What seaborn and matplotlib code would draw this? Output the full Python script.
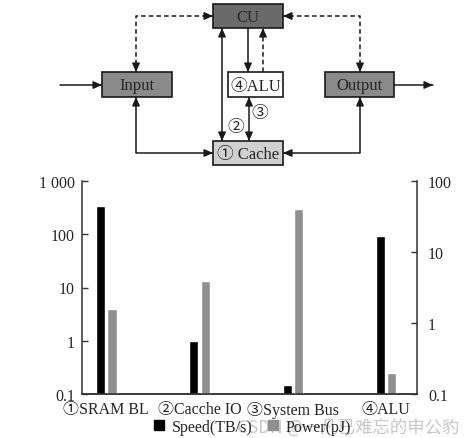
import numpy as np
import pandas as pd
import seaborn as sns
import matplotlib.pyplot as plt
from matplotlib.patches import Rectangle
from matplotlib.lines import Line2D
from matplotlib.ticker import NullLocator

# --- dados ---
categorias = ['①SRAM BL', '②Cacche IO', '③System Bus', '④ALU']
speed = [340, 1.0, 0.15, 91]      # TB/s, eixo esquerdo
power = [1.6, 3.9, 40, 0.2]       # pJ, eixo direito
series = ['Speed(TB/s)', 'Power(pJ)']
cores = {'Speed(TB/s)': '#000000', 'Power(pJ)': '#8f8f8f'}
left_ticks = [0.1, 1, 10, 100, 1000]
left_labels = ['0.1', '1', '10', '100', '1 000']
right_ticks = [0.1, 1, 10, 100]
right_labels = ['0.1', '1', '10', '100']

df = pd.DataFrame({
    'cat': categorias * 2,
    'valor': speed + power,
    'serie': [series[0]] * 4 + [series[1]] * 4,
})

sns.set_style('ticks')
plt.rcParams['font.family'] = ['Liberation Serif', 'Noto Sans CJK SC']
plt.rcParams['font.size'] = 11.5

fig = plt.figure(figsize=(4.74, 4.39), dpi=100)

# --- diagrama (coordenadas em pixels) ---
dax = fig.add_axes([0, 0, 1, 1])
dax.set_xlim(0, 474)
dax.set_ylim(439, 0)
dax.axis('off')

LC = '#1a1a1a'


def caixa(x0, y0, x1, y1, cor, texto):
    dax.add_patch(Rectangle((x0, y0), x1 - x0, y1 - y0, facecolor=cor,
                            edgecolor=LC, lw=1.2, zorder=3))
    dax.text((x0 + x1) / 2, (y0 + y1) / 2 + 1, texto, ha='center', va='center',
             fontsize=12, zorder=4)


def linha(xs, ys, ls='-'):
    dax.plot(xs, ys, color=LC, lw=1.1, ls=ls, zorder=2, dashes=(3, 2) if ls == '--' else (None, None))


def seta(x0, y0, x1, y1):
    # ponta da seta chegando em (x1, y1)
    d = np.hypot(x1 - x0, y1 - y0)
    ux, uy = (x1 - x0) / d, (y1 - y0) / d
    dax.annotate('', xy=(x1, y1), xytext=(x1 - ux * 6, y1 - uy * 6),
                 arrowprops=dict(arrowstyle='-|>,head_length=0.45,head_width=0.2',
                                 color=LC, lw=1.0, shrinkA=0, shrinkB=0), zorder=5)


caixa(213, 5, 283, 29, '#6a6a6a', 'CU')
caixa(102, 73, 172, 98, '#8a8a8a', 'Input')
caixa(228, 73, 283, 98, 'white', '④ALU')
caixa(325, 73, 394, 98, '#8a8a8a', 'Output')
caixa(213, 142, 283, 166, '#d0d0d0', '① Cache')

# entrada / saida
linha([60, 102], [86, 86]); seta(60, 86, 102, 86)
linha([394, 433], [86, 86]); seta(394, 86, 433, 86)
# tracejadas CU <-> Input / Output
linha([136, 136, 213], [73, 17, 17], '--'); seta(136, 17, 136, 73); seta(136, 17, 213, 17)
linha([360, 360, 283], [73, 17, 17], '--'); seta(360, 17, 360, 73); seta(360, 17, 283, 17)
# CU <-> Cache
linha([222, 222], [29, 142]); seta(222, 80, 222, 29); seta(222, 80, 222, 142)
# CU -> ALU, ALU -> CU (tracejada)
linha([248, 248], [29, 73]); seta(248, 29, 248, 73)
linha([263, 263], [73, 29], '--'); seta(263, 73, 263, 29)
# ALU <-> Cache
linha([249, 249], [98, 142]); seta(249, 120, 249, 98); seta(249, 120, 249, 142)
# Input <-> Cache, Output <-> Cache
linha([136, 136, 213], [98, 154, 154]); seta(136, 154, 136, 98); seta(136, 154, 213, 154)
linha([360, 360, 283], [98, 154, 154]); seta(360, 154, 360, 98); seta(360, 154, 283, 154)
dax.text(236, 128, '②', ha='center', va='center', fontsize=12)
dax.text(260, 114, '③', ha='center', va='center', fontsize=12)

# --- grafico de barras ---
ax = fig.add_axes([82 / 474, 1 - 395 / 439, 335 / 474, 213 / 439])
ax.patch.set_alpha(0)
ax2 = ax.twinx()
ax.set_yscale('log', nonpositive='clip')
ax2.set_yscale('log', nonpositive='clip')

sns.barplot(data=df[df['serie'] == series[0]], x='cat', y='valor', hue='serie',
            hue_order=series, palette=cores, width=0.245, gap=0.2, dodge=True,
            legend=False, ax=ax, order=categorias, saturation=1)
sns.barplot(data=df[df['serie'] == series[1]], x='cat', y='valor', hue='serie',
            hue_order=series, palette=cores, width=0.245, gap=0.2, dodge=True,
            legend=False, ax=ax2, order=categorias, saturation=1)

ax.set_yscale('log', nonpositive='clip')
ax2.set_yscale('log', nonpositive='clip')
ax.set_ylim(0.1, 1000)
ax2.set_ylim(0.1, 100)
ax.set_xlim(-0.26, 3.33)
ax.set_yticks(left_ticks)
ax.set_yticklabels(left_labels)
ax2.set_yticks(right_ticks)
ax2.set_yticklabels(right_labels)
for a in (ax, ax2):
    a.yaxis.set_minor_locator(NullLocator())
    a.set_xlabel('')
    a.set_ylabel('')
    for s in a.spines.values():
        s.set_color('#333333')
        s.set_linewidth(1.1)
    a.spines['top'].set_visible(False)

ax.spines['right'].set_visible(False)
ax2.spines['left'].set_visible(False)
ax.tick_params(axis='y', direction='in', length=4, width=1, pad=5, labelsize=11.5, color='#333333')
ax2.tick_params(axis='y', direction='in', length=4, width=1, pad=8, labelsize=11.5, color='#333333')
ax.tick_params(axis='x', length=0, pad=5, labelsize=11.5)

handles = [Line2D([], [], marker='s', ls='none', color=cores[s], markersize=7) for s in series]
fig.legend(handles, series, loc='center', bbox_to_anchor=(0.53, 0.025), ncol=2,
           frameon=False, fontsize=11.5, handletextpad=0.3, columnspacing=0.8,
           handlelength=1.0)

fig.text(0.97, 0.025, 'CSDN @一凡已难忘的申公豹', ha='right', va='center', fontsize=12.5,
         color='#bdbdbd', family=['Noto Sans CJK SC', 'DejaVu Sans'], alpha=0.85)

fig.savefig('out.png', dpi=100, facecolor='white')
